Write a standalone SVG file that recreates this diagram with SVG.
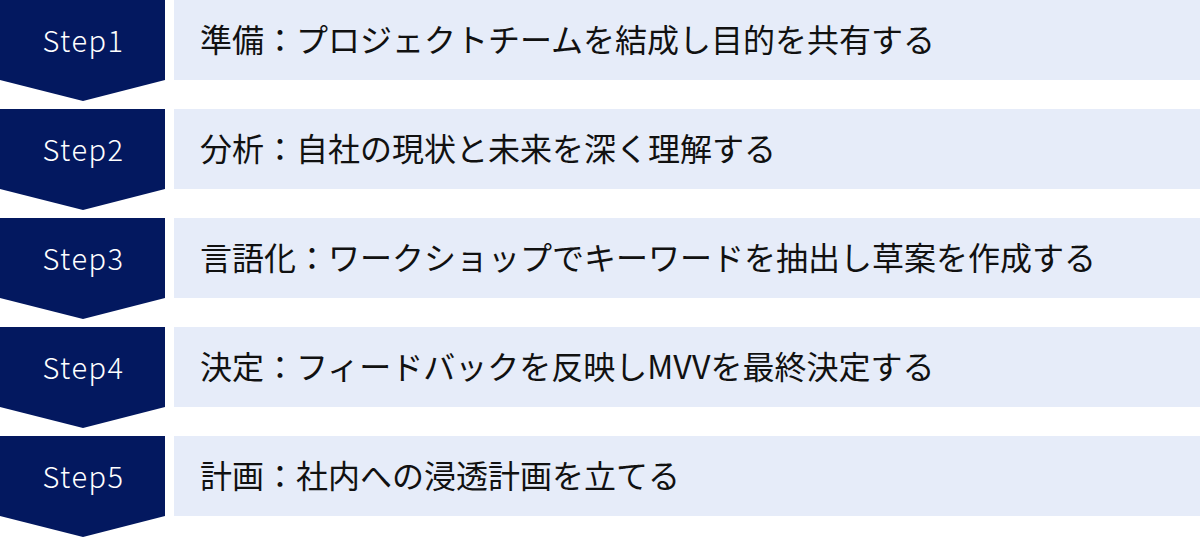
<svg xmlns="http://www.w3.org/2000/svg" width="1200" height="538" viewBox="0 0 1200 538">
<defs>
<style>
.chev{fill:#03185F;}
.bar{fill:#E6ECF9;}
.step{font-family:"Noto Sans CJK JP","Noto Sans",sans-serif;font-size:29px;font-weight:300;fill:#FFFFFF;text-anchor:middle;letter-spacing:1.5px;}
.lbl{font-family:"Noto Sans CJK JP","Noto Sans",sans-serif;font-size:32px;fill:#111111;}
</style>
<path id="chevshape" d="M0 0 H165 V80 L83 101 L0 80 Z"/>
</defs>
<rect width="1200" height="538" fill="#FFFFFF"/>
<g id="step1" transform="translate(0,0)">
<use href="#chevshape" class="chev"/>
<rect class="bar" x="174" y="0" width="1026" height="80"/>
<text class="step" x="83.5" y="52">Step1</text>
<text class="lbl" x="200" y="52">準備：プロジェクトチームを結成し目的を共有する</text>
</g>
<g id="step2" transform="translate(0,109)">
<use href="#chevshape" class="chev"/>
<rect class="bar" x="174" y="0" width="1026" height="80"/>
<text class="step" x="83.5" y="52">Step2</text>
<text class="lbl" x="200" y="52">分析：自社の現状と未来を深く理解する</text>
</g>
<g id="step3" transform="translate(0,218)">
<use href="#chevshape" class="chev"/>
<rect class="bar" x="174" y="0" width="1026" height="80"/>
<text class="step" x="83.5" y="52">Step3</text>
<text class="lbl" x="200" y="52">言語化：ワークショップでキーワードを抽出し草案を作成する</text>
</g>
<g id="step4" transform="translate(0,327)">
<use href="#chevshape" class="chev"/>
<rect class="bar" x="174" y="0" width="1026" height="80"/>
<text class="step" x="83.5" y="52">Step4</text>
<text class="lbl" x="200" y="52">決定：フィードバックを反映しMVVを最終決定する</text>
</g>
<g id="step5" transform="translate(0,436)">
<use href="#chevshape" class="chev"/>
<rect class="bar" x="174" y="0" width="1026" height="80"/>
<text class="step" x="83.5" y="52">Step5</text>
<text class="lbl" x="200" y="52">計画：社内への浸透計画を立てる</text>
</g>
<g id="connectors"></g>
</svg>
